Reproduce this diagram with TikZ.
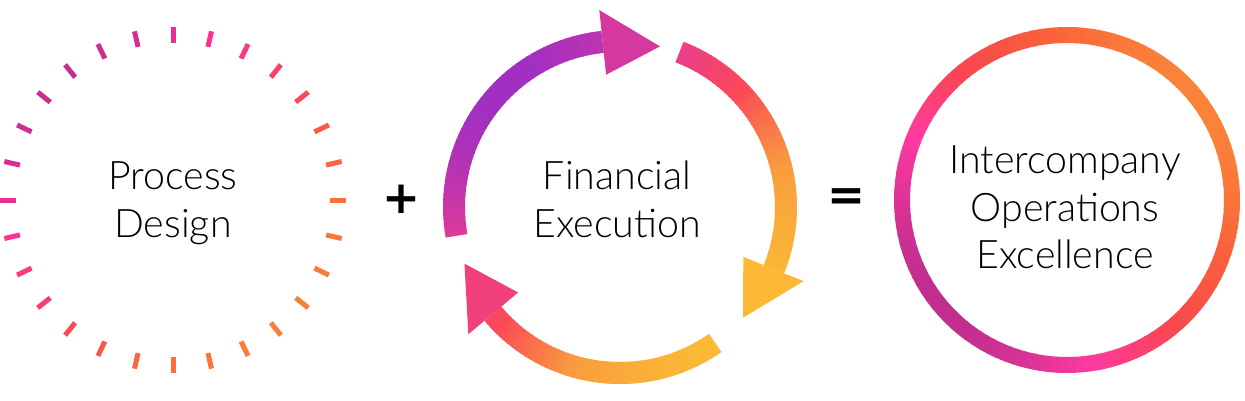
\documentclass[tikz,border=0pt]{standalone}
\usepackage{fontspec}
\IfFontExistsTF{Lato Light}{\setmainfont{Lato Light}}{\setmainfont{Lato}}
\newfontfamily\heavyfont{DejaVu Sans}[UprightFont=* Bold]

\definecolor{tick0}{HTML}{C62E8E}
\definecolor{tick1}{HTML}{FF3390}
\definecolor{tick2}{HTML}{F8435F}
\definecolor{tick3}{HTML}{FA6440}
\definecolor{tick4}{HTML}{FB7E36}
\definecolor{fin0}{HTML}{A02FC2}
\definecolor{fin1}{HTML}{E83C94}
\definecolor{fin2}{HTML}{FB4858}
\definecolor{fin3}{HTML}{F99C3E}
\definecolor{fin4}{HTML}{FBBA35}
\definecolor{ring0}{HTML}{C02E8E}
\definecolor{ring1}{HTML}{FF3AA0}
\definecolor{ring2}{HTML}{F8464F}
\definecolor{ring3}{HTML}{F95E3C}
\definecolor{ring4}{HTML}{FA8339}

% colour #2 at t=#1 on a ramp with stops #3..#7 at 0, .25, .5, .75, 1
\newcommand\rampcol[7]{%
  \pgfmathsetmacro\rampx{min(max(4*(#1),0),3.999)}%
  \pgfmathtruncatemacro\rampk{\rampx}%
  \pgfmathsetmacro\rampp{100*(1-(\rampx-\rampk))}%
  \ifcase\rampk \colorlet{#2}{#3!\rampp!#4}\or \colorlet{#2}{#4!\rampp!#5}\or
    \colorlet{#2}{#5!\rampp!#6}\or \colorlet{#2}{#6!\rampp!#7}\fi}

\begin{document}
\begin{tikzpicture}[x=0.75pt,y=0.75pt,yscale=-1,xscale=1]
\useasboundingbox (0,0) rectangle (1245,400);

\coordinate (pd) at (173,200);
\coordinate (fe) at (620,207);
\coordinate (ie) at (1067,200);

%Dashed ring
\foreach \i in {0,...,27}{
  \pgfmathsetmacro\ang{\i*360/28}
  \rampcol{(1+cos(\ang-45))/2}{segc}{tick0}{tick1}{tick2}{tick3}{tick4}
  \draw [segc, line width=3.75pt] (pd) ++(\ang:157) -- ++(\ang:16);
}

%Arrow shafts
\foreach \st/\bs in {170/264, 291/382, 415/500}{
  \foreach \k in {0,...,46}{
    \pgfmathsetmacro\ang{\st+\k*(\bs-\st)/47}
    \pgfmathsetmacro\angend{min(\ang+(\bs-\st)/47+0.6,\bs)}
    \rampcol{(1+cos(\ang-45))/2}{segc}{fin0}{fin1}{fin2}{fin3}{fin4}
    \draw [segc, line width=16.5pt] (fe) ++(\ang:166) arc[start angle=\ang, end angle=\angend, radius=166];
  }
}

%Arrow heads
\foreach \bs/\tp in {264/284, 382/402, 500/520}{
  \pgfmathsetmacro\ang{\bs+12}
  \rampcol{(1+cos(\ang-45))/2}{segc}{fin0}{fin1}{fin2}{fin3}{fin4}
  \fill [segc, shift={(fe)}] (\bs:133) -- (\tp:165.5) -- (\bs:198) -- cycle;
}

%Solid ring
\foreach \k in {0,...,119}{
  \pgfmathsetmacro\ang{\k*3}
  \rampcol{(1+cos(\ang+40))/2}{segc}{ring0}{ring1}{ring2}{ring3}{ring4}
  \draw [segc, line width=12pt] (ie) ++(\ang:165) arc[start angle=\ang, end angle=\ang+3.6, radius=165];
}

% Text Node
\node (process) [font=\fontsize{29.5}{36}\selectfont, align=center] at (173,203.5) {Process\\Design};
% Text Node
\node (finance) [font=\fontsize{29.5}{36}\selectfont, align=center] at (617,199) {Financial\\Execution};
% Text Node
\node (result) [font=\fontsize{29.5}{35.6}\selectfont, align=center] at (1065,207.5) {Intercompany\\Operations\\Excellence};
% Text Node
\node (plus) [font=\heavyfont\fontsize{34}{34}\selectfont] at (401,199.5) {+};
% Text Node
\node (equals) [font=\heavyfont\fontsize{34}{34}\selectfont] at (846,200) {=};

\end{tikzpicture}
\end{document}
